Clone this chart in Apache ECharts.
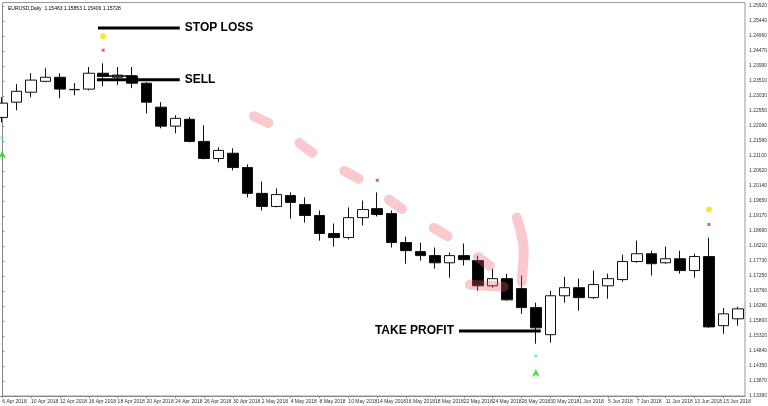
<!DOCTYPE html>
<html>
<head>
<meta charset="utf-8">
<script src="https://cdn.jsdelivr.net/npm/echarts@6/dist/echarts.min.js"></script>
<style>
  html, body { margin: 0; padding: 0; background: #fff; }
  #chart { width: 768px; height: 406px; }
</style>
</head>
<body>
<div id="chart"></div>
<script>
const dates = [
  '6 Apr 2018', '9 Apr 2018', '10 Apr 2018', '11 Apr 2018', '12 Apr 2018', '13 Apr 2018',
  '16 Apr 2018', '17 Apr 2018', '18 Apr 2018', '19 Apr 2018', '20 Apr 2018', '23 Apr 2018',
  '24 Apr 2018', '25 Apr 2018', '26 Apr 2018', '27 Apr 2018', '30 Apr 2018', '1 May 2018',
  '2 May 2018', '3 May 2018', '4 May 2018', '7 May 2018', '8 May 2018', '9 May 2018',
  '10 May 2018', '11 May 2018', '14 May 2018', '15 May 2018', '16 May 2018', '17 May 2018',
  '18 May 2018', '21 May 2018', '22 May 2018', '23 May 2018', '24 May 2018', '25 May 2018',
  '28 May 2018', '29 May 2018', '30 May 2018', '31 May 2018', '1 Jun 2018', '4 Jun 2018',
  '5 Jun 2018', '6 Jun 2018', '7 Jun 2018', '8 Jun 2018', '11 Jun 2018', '12 Jun 2018',
  '13 Jun 2018', '14 Jun 2018', '15 Jun 2018', '18 Jun 2018'
];
const opens = [
  1.2234, 1.2283, 1.2315, 1.2350, 1.2363, 1.2323, 1.2325, 1.2376, 1.2363, 1.2367,
  1.2344, 1.2267, 1.2206, 1.2228, 1.2157, 1.2102, 1.2119, 1.2073, 1.1990, 1.1948,
  1.1983, 1.1954, 1.1919, 1.1861, 1.1848, 1.1912, 1.1941, 1.1925, 1.1832, 1.1803,
  1.1790, 1.1767, 1.1790, 1.1774, 1.1693, 1.1716, 1.1684, 1.1623, 1.1536, 1.1661,
  1.1687, 1.1655, 1.1693, 1.1713, 1.1771, 1.1796, 1.1767, 1.1780, 1.1742, 1.1787,
  1.1565, 1.1587
];
const closes = [
  1.2280, 1.2318, 1.2354, 1.2363, 1.2325, 1.2324, 1.2376, 1.2367, 1.2370, 1.2344,
  1.2283, 1.2206, 1.2231, 1.2157, 1.2102, 1.2128, 1.2073, 1.1990, 1.1948, 1.1986,
  1.1961, 1.1919, 1.1861, 1.1848, 1.1912, 1.1938, 1.1922, 1.1832, 1.1806, 1.1790,
  1.1767, 1.1790, 1.1777, 1.1693, 1.1716, 1.1648, 1.1623, 1.1558, 1.1661, 1.1687,
  1.1655, 1.1697, 1.1716, 1.1771, 1.1796, 1.1764, 1.1780, 1.1742, 1.1787, 1.1561,
  1.1603, 1.1619
];
const lows = [
  1.2218, 1.2257, 1.2299, 1.2347, 1.2296, 1.2305, 1.2321, 1.2334, 1.2338, 1.2328,
  1.2247, 1.2199, 1.2183, 1.2154, 1.2099, 1.2090, 1.2064, 1.1977, 1.1935, 1.1945,
  1.1909, 1.1896, 1.1838, 1.1819, 1.1842, 1.1887, 1.1916, 1.1816, 1.1764, 1.1774,
  1.1748, 1.1719, 1.1758, 1.1677, 1.1687, 1.1645, 1.1603, 1.1507, 1.1510, 1.1639,
  1.1613, 1.1651, 1.1651, 1.1706, 1.1767, 1.1726, 1.1764, 1.1732, 1.1719, 1.1558,
  1.1539, 1.1565
];
const highs = [
  1.2299, 1.2341, 1.2376, 1.2392, 1.2376, 1.2344, 1.2396, 1.2408, 1.2396, 1.2396,
  1.2347, 1.2283, 1.2241, 1.2235, 1.2209, 1.2138, 1.2135, 1.2083, 1.2028, 1.2006,
  1.1993, 1.1977, 1.1935, 1.1893, 1.1945, 1.1967, 1.1993, 1.1935, 1.1851, 1.1832,
  1.1816, 1.1800, 1.1829, 1.1790, 1.1748, 1.1732, 1.1726, 1.1639, 1.1677, 1.1722,
  1.1716, 1.1742, 1.1732, 1.1793, 1.1838, 1.1806, 1.1819, 1.1806, 1.1796, 1.1848,
  1.1622, 1.1626
];

// price scale on the right
const yMin = 1.1339;
const yMax = 1.2592;
const yTickCount = 26;
const lastPrice = 1.15728;
const headerText = 'EURUSD,Daily  1.15463 1.15853 1.15406 1.15728';

// hand drawn trade levels: name, price, bar from, bar to
const levelNames = ['STOP LOSS', 'SELL', '', 'TAKE PROFIT'];
const levelPrices = [1.2521, 1.2355, 1.2367, 1.1548];
const levelFrom = [6.64, 6.57, 6.57, 31.67];
const levelTo = [12.31, 12.31, 9.34, 37.34];

// indicator dots (bar index, price)
const yellowBars = [7, 49];
const yellowPrices = [1.2495, 1.1938];
const redBars = [7, 26, 49];
const redPrices = [1.2450, 1.2032, 1.1890];
const cyanBars = [0, 37];
const cyanPrices = [1.2170, 1.1468];
const greenBars = [0, 37];
const greenPrices = [1.2128, 1.1426];

// pink marker strokes (bar index, price)
const trendBars = [17.45, 19.39, 21.88, 25.14, 27.78, 31.03, 33.80];
const trendPrices = [1.22377, 1.21926, 1.21088, 1.20251, 1.19381, 1.18479, 1.17577];
const hookABars = [32.42, 34.77];
const hookAPrices = [1.16965, 1.16901];
const hookBBars = [36.02, 36.16, 35.68];
const hookBPrices = [1.17062, 1.18061, 1.19124];

const candles = dates.map((d, i) => [opens[i], closes[i], lows[i], highs[i]]);
const zip = (xs, ys) => xs.map((x, i) => [x, ys[i]]);

const font = 'Liberation Sans';
const pink = 'rgba(238,90,105,0.33)';

const levelSeries = levelNames.map((name, i) => {
  const a = [levelFrom[i], levelPrices[i]];
  const b = [levelTo[i], levelPrices[i]];
  const isLeft = name === 'TAKE PROFIT';
  const lab = { show: name !== '', formatter: name, position: isLeft ? 'left' : 'right',
    distance: 5, color: '#000', fontSize: 12, fontWeight: 'bold', fontFamily: font };
  return {
    type: 'line', xAxisIndex: 1, silent: true, z: 6,
    symbol: 'circle', symbolSize: 0, showSymbol: true,
    lineStyle: { color: '#000', width: name === '' ? 1.5 : 3 },
    data: isLeft ? [{ value: a, label: lab }, b] : [a, { value: b, label: lab }]
  };
});

const dotSeries = (bars, prices, symbol, size, color) => ({
  type: 'scatter', xAxisIndex: 1, silent: true, z: 7,
  symbol: symbol, symbolSize: size,
  itemStyle: { color: color },
  data: zip(bars, prices)
});

const strokeSeries = (bars, prices, type) => ({
  type: 'line', xAxisIndex: 1, silent: true, z: 8,
  symbol: 'none', smooth: 0.3,
  lineStyle: { color: pink, width: 10, type: type, cap: 'round', join: 'round' },
  data: zip(bars, prices)
});

const chart = echarts.init(document.getElementById('chart'));
chart.setOption({
  animation: false,
  backgroundColor: '#fff',
  title: {
    text: headerText, left: 3, top: 1,
    textStyle: { fontSize: 5, fontWeight: 'normal', color: '#000', fontFamily: font }
  },
  grid: { left: -5, right: 23, top: 6, bottom: 10, outerBoundsMode: 'none', containLabel: false },
  xAxis: [{
    type: 'category',
    data: dates,
    boundaryGap: true,
    axisLine: { show: true, lineStyle: { color: '#888' } },
    axisTick: { show: true, interval: 1, alignWithLabel: true, length: 2, lineStyle: { color: '#888' } },
    axisLabel: { interval: 1, align: 'left', margin: 3, fontSize: 5, color: '#333', fontFamily: font },
    splitLine: { show: false }
  }, {
    type: 'value', min: -0.5, max: dates.length - 0.5, show: false
  }],
  yAxis: {
    type: 'value',
    position: 'right',
    min: yMin,
    max: yMax,
    interval: (yMax - yMin) / yTickCount,
    axisLine: { show: true, lineStyle: { color: '#888' } },
    axisTick: { show: true, length: 2, lineStyle: { color: '#888' } },
    axisLabel: {
      margin: 4, fontSize: 5, color: '#333', fontFamily: font,
      formatter: (v) => v.toFixed(4) + '0'
    },
    splitLine: { show: false }
  },
  graphic: [{
    type: 'rect', silent: true, z: 0,
    shape: { x: 2.5, y: 2.5, width: 742.5, height: 393.5 },
    style: { fill: 'none', stroke: '#999', lineWidth: 1 }
  }],
  series: [{
    type: 'candlestick',
    data: candles,
    barWidth: 11,
    itemStyle: {
      color: '#fff', color0: '#000',
      borderColor: '#111', borderColor0: '#111', borderWidth: 1
    },
    markLine: {
      silent: true, symbol: 'none',
      lineStyle: { width: 0, opacity: 0 },
      label: {
        position: 'end', distance: 1, formatter: lastPrice.toFixed(5),
        backgroundColor: '#000', color: '#fff', fontSize: 5, padding: [1, 2], fontFamily: font
      },
      data: [{ yAxis: lastPrice }]
    }
  },
  ...levelSeries,
  dotSeries(yellowBars, yellowPrices, 'circle', 6, '#f2e200'),
  dotSeries(redBars, redPrices, 'rect', 3, '#e8303a'),
  dotSeries(cyanBars, cyanPrices, 'circle', 3, '#37e0ee'),
  dotSeries(greenBars, greenPrices, 'arrow', [6, 8], '#1fd81f'),
  strokeSeries(trendBars, trendPrices, [16, 37]),
  strokeSeries(hookABars, hookAPrices, 'solid'),
  strokeSeries(hookBBars, hookBPrices, 'solid')
  ]
});
</script>
</body>
</html>
